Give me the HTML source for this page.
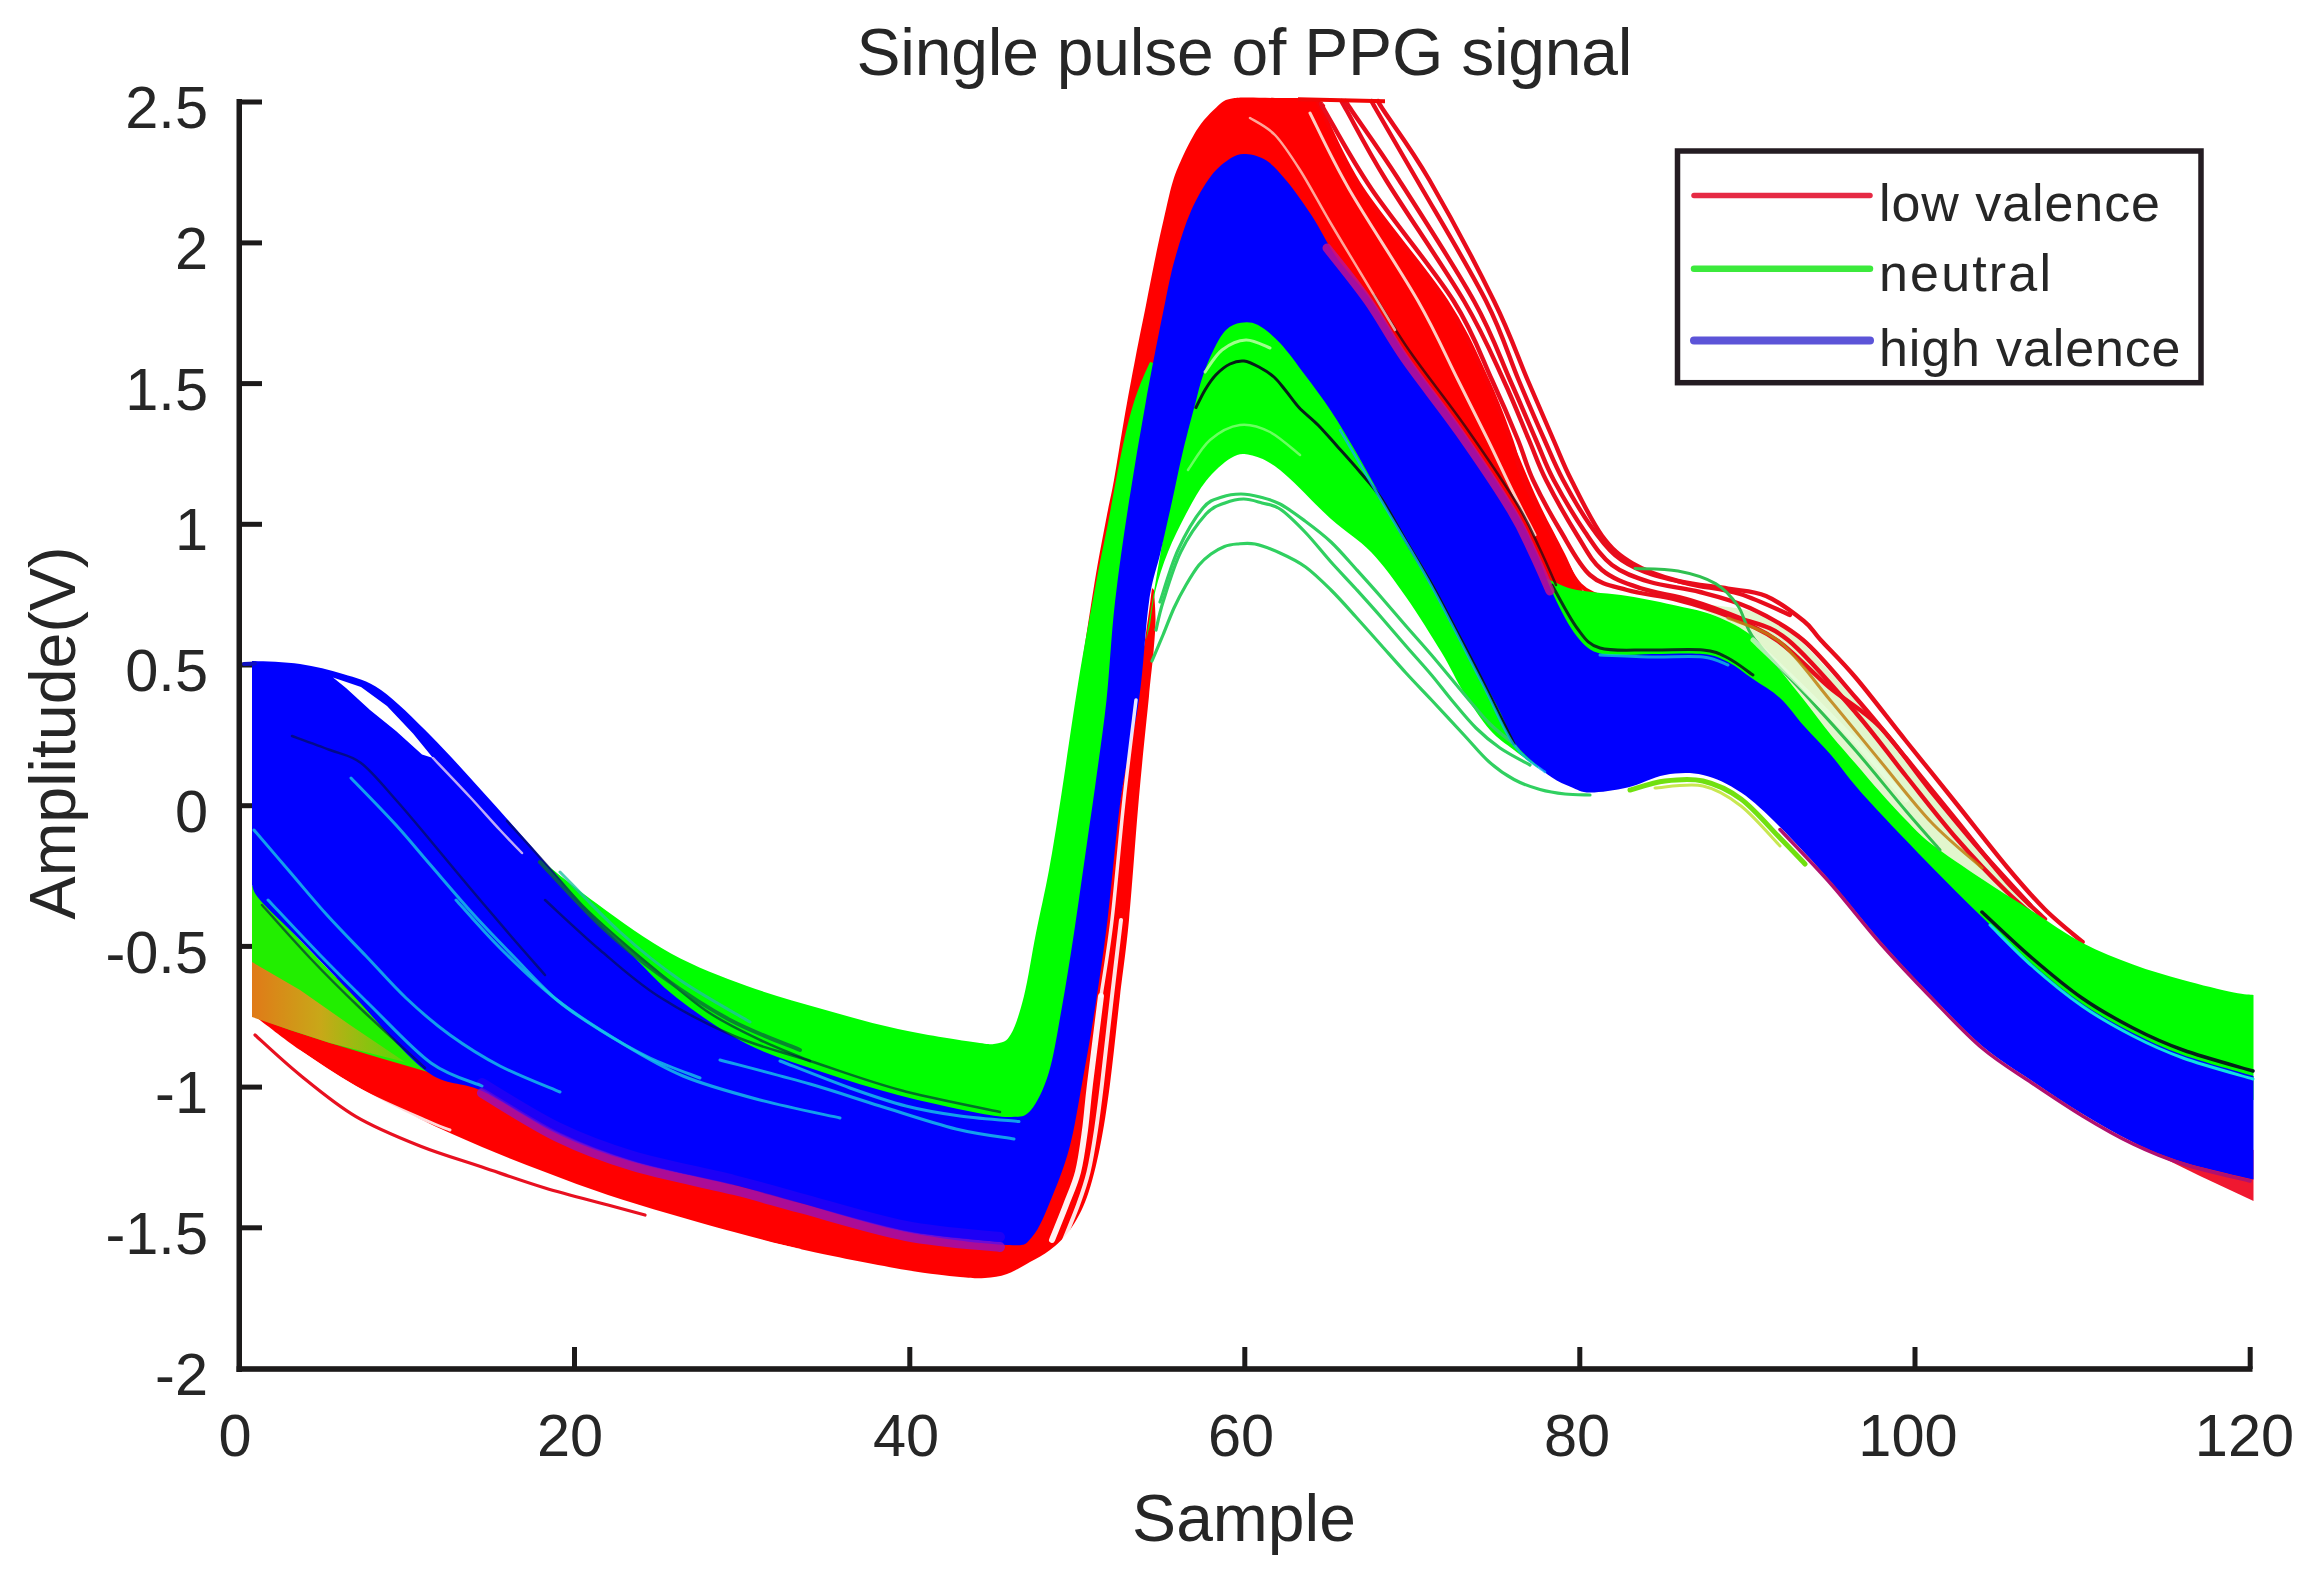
<!DOCTYPE html>
<html lang="en">
<head>
<meta charset="utf-8">
<title>Single pulse of PPG signal</title>
<style>
html,body{margin:0;padding:0;background:#ffffff;}
body{width:2310px;height:1588px;overflow:hidden;}
svg{display:block;}
text{font-family:"Liberation Sans",sans-serif;fill:#262626;}
.tick{font-size:59.5px;}
.lab{font-size:66px;}
.leg{font-size:52px;}
</style>
</head>
<body>
<svg width="2310" height="1588" viewBox="0 0 2310 1588">
<rect x="0" y="0" width="2310" height="1588" fill="#ffffff"/>
<!-- axes -->
<g fill="#1c1a1a">
<rect x="236.5" y="99" width="5.5" height="1273"/>
<rect x="236.5" y="1366.2" width="2016" height="5.6"/>
<!-- y ticks -->
<rect x="239" y="99.5" width="23" height="5"/>
<rect x="239" y="240.4" width="23" height="5"/>
<rect x="239" y="381.1" width="23" height="5"/>
<rect x="239" y="521.8" width="23" height="5"/>
<rect x="239" y="662.5" width="23" height="5"/>
<rect x="239" y="803.2" width="23" height="5"/>
<rect x="239" y="943.9" width="23" height="5"/>
<rect x="239" y="1084.6" width="23" height="5"/>
<rect x="239" y="1225.3" width="23" height="5"/>
<!-- x ticks -->
<rect x="572" y="1347" width="5" height="22"/>
<rect x="907.3" y="1347" width="5" height="22"/>
<rect x="1242.3" y="1347" width="5" height="22"/>
<rect x="1577.3" y="1347" width="5" height="22"/>
<rect x="1912.5" y="1347" width="5" height="22"/>
<rect x="2247.7" y="1347" width="5" height="22"/>
</g>
<path d="M1690.0,603.0 C1695.0,603.5 1709.5,604.5 1720.0,606.0 C1730.5,607.5 1741.3,607.7 1753.0,612.0 C1764.7,616.3 1777.2,622.0 1790.0,632.0 C1802.8,642.0 1815.0,655.7 1830.0,672.0 C1845.0,688.3 1863.3,710.0 1880.0,730.0 C1896.7,750.0 1913.3,771.7 1930.0,792.0 C1946.7,812.3 1963.3,833.2 1980.0,852.0 C1996.7,870.8 2016.7,892.0 2030.0,905.0 C2043.3,918.0 2055.0,925.8 2060.0,930.0 L2060.0,930.0 C2055.3,926.8 2045.0,919.5 2032.0,911.0 C2019.0,902.5 1998.8,890.2 1982.0,879.0 C1965.2,867.8 1944.2,853.8 1931.5,844.0 C1918.8,834.2 1914.4,828.5 1906.0,820.0 C1897.6,811.5 1889.3,802.3 1881.0,793.0 C1872.7,783.7 1864.3,773.7 1856.0,764.0 C1847.7,754.3 1839.7,745.7 1831.0,735.0 C1822.3,724.3 1812.5,710.8 1804.0,700.0 C1795.5,689.2 1788.4,680.5 1780.0,670.0 C1771.6,659.5 1763.4,645.7 1753.4,637.0 C1743.4,628.3 1730.6,623.3 1720.0,618.0 C1709.4,612.7 1695.0,607.2 1690.0,605.0 Z" fill="#dff5c8" opacity="0.9"/>
<path d="M252.0,1014.0 C260.0,1020.0 282.7,1038.0 300.0,1050.0 C317.3,1062.0 336.0,1074.5 356.0,1086.0 C376.0,1097.5 399.0,1108.8 420.0,1119.0 C441.0,1129.2 461.2,1138.2 482.0,1147.0 C502.8,1155.8 524.0,1164.0 545.0,1172.0 C566.0,1180.0 587.2,1188.0 608.0,1195.0 C628.8,1202.0 649.0,1207.8 670.0,1214.0 C691.0,1220.2 710.8,1225.8 734.0,1232.0 C757.2,1238.2 780.3,1244.7 809.0,1251.0 C837.7,1257.3 880.8,1265.7 906.0,1270.0 C931.2,1274.3 946.8,1275.7 960.0,1277.0 C973.2,1278.3 977.2,1278.5 985.0,1278.0 C992.8,1277.5 999.5,1276.7 1007.0,1274.0 C1014.5,1271.3 1022.8,1266.0 1030.0,1262.0 C1037.2,1258.0 1043.3,1255.3 1050.0,1250.0 C1056.7,1244.7 1063.8,1238.8 1070.0,1230.0 C1076.2,1221.2 1082.0,1210.8 1087.0,1197.0 C1092.0,1183.2 1096.2,1165.8 1100.0,1147.0 C1103.8,1128.2 1106.7,1109.2 1110.0,1084.0 C1113.3,1058.8 1116.8,1023.3 1120.0,996.0 C1123.2,968.7 1125.8,953.2 1129.0,920.0 C1132.2,886.8 1135.7,834.3 1139.0,797.0 C1142.3,759.7 1146.6,720.2 1149.0,696.0 C1151.4,671.8 1152.4,664.7 1153.5,652.0 C1154.6,639.3 1155.4,630.3 1155.5,620.0 C1155.6,609.7 1154.2,595.0 1154.0,590.0 L1152.0,588.0 C1150.8,596.7 1150.3,604.7 1145.0,640.0 C1139.7,675.3 1128.3,748.3 1120.0,800.0 C1111.7,851.7 1103.3,900.0 1095.0,950.0 C1086.7,1000.0 1080.8,1058.3 1070.0,1100.0 C1059.2,1141.7 1058.3,1183.3 1030.0,1200.0 C1001.7,1216.7 955.0,1208.3 900.0,1200.0 C845.0,1191.7 766.7,1175.0 700.0,1150.0 C633.3,1125.0 550.0,1075.0 500.0,1050.0 C450.0,1025.0 441.3,1016.7 400.0,1000.0 C358.7,983.3 276.7,958.3 252.0,950.0 Z" fill="#ff0000" />
<path d="M1079.0,684.0 C1081.6,667.2 1090.0,610.3 1094.5,583.0 C1099.0,555.7 1102.8,537.2 1106.0,520.0 C1109.2,502.8 1111.0,496.7 1114.0,480.0 C1117.0,463.3 1120.4,440.5 1124.0,420.0 C1127.6,399.5 1131.9,376.2 1135.6,357.0 C1139.3,337.8 1142.7,321.8 1146.0,305.0 C1149.3,288.2 1152.7,270.5 1155.7,256.0 C1158.7,241.5 1161.1,230.5 1164.0,218.0 C1166.9,205.5 1169.8,191.3 1173.0,181.0 C1176.2,170.7 1179.6,163.6 1183.0,156.0 C1186.4,148.4 1190.0,141.4 1193.5,135.4 C1197.0,129.4 1200.2,124.6 1204.0,120.0 C1207.8,115.4 1212.7,110.9 1216.0,107.7 C1219.3,104.5 1221.3,102.5 1224.0,101.0 C1226.7,99.5 1228.5,99.1 1232.0,98.5 C1235.5,97.9 1237.8,97.6 1245.0,97.5 C1252.2,97.4 1263.2,97.7 1275.0,98.0 C1286.8,98.3 1308.2,97.3 1316.0,99.5 C1323.8,101.7 1314.3,96.1 1322.0,111.0 C1329.7,125.9 1341.3,157.3 1362.0,189.0 C1382.7,220.7 1425.2,269.2 1446.0,301.0 C1466.8,332.8 1476.0,356.8 1487.0,380.0 C1498.0,403.2 1503.3,419.5 1512.0,440.0 C1520.7,460.5 1530.2,484.2 1539.0,503.0 C1547.8,521.8 1557.7,539.2 1564.5,553.0 C1571.3,566.8 1575.8,578.2 1580.0,586.0 C1584.2,593.8 1588.3,597.7 1590.0,600.0 L1590.0,640.0 C1581.7,636.7 1558.3,640.0 1540.0,620.0 C1521.7,600.0 1500.0,553.3 1480.0,520.0 C1460.0,486.7 1445.0,456.7 1420.0,420.0 C1395.0,383.3 1359.0,336.7 1330.0,300.0 C1301.0,263.3 1271.0,195.0 1246.0,200.0 C1221.0,205.0 1197.7,270.0 1180.0,330.0 C1162.3,390.0 1155.0,500.0 1140.0,560.0 C1125.0,620.0 1098.3,668.3 1090.0,690.0 Z" fill="#ff0000" />
<path d="M2030,1078 L2100,1124 L2145,1149 L2200,1176 L2253.5,1201 L2253.5,1150 Z" fill="#f01830" />
<path d="M1320.0,104.0 C1320.3,105.2 1315.0,96.8 1322.0,111.0 C1329.0,125.2 1341.3,157.3 1362.0,189.0 C1382.7,220.7 1425.2,269.2 1446.0,301.0 C1466.8,332.8 1476.2,356.8 1487.0,380.0 C1497.8,403.2 1504.9,423.3 1511.0,440.0 C1517.1,456.7 1516.7,464.2 1523.5,480.0 C1530.3,495.8 1542.6,517.5 1552.0,535.0 C1561.4,552.5 1569.5,574.2 1580.0,585.0 C1590.5,595.8 1603.0,596.2 1615.0,600.0 C1627.0,603.8 1645.8,606.7 1652.0,608.0" fill="none" stroke="#fa0206" stroke-width="4.4" stroke-linecap="round" />
<path d="M1323.0,106.0 C1323.3,106.8 1316.9,97.2 1325.0,111.0 C1333.1,124.8 1350.1,157.3 1371.5,189.0 C1392.9,220.7 1433.5,269.2 1453.6,301.0 C1473.7,332.8 1481.3,356.8 1492.0,380.0 C1502.7,403.2 1511.2,423.3 1518.0,440.0 C1524.8,456.7 1526.0,465.0 1533.0,480.0 C1540.0,495.0 1550.5,514.2 1560.0,530.0 C1569.5,545.8 1578.8,565.0 1590.0,575.0 C1601.2,585.0 1612.3,585.8 1627.0,590.0 C1641.7,594.2 1661.2,595.7 1678.0,600.0 C1694.8,604.3 1711.3,609.2 1728.0,616.0 C1744.7,622.8 1761.2,629.2 1778.0,641.0 C1794.8,652.8 1812.0,672.7 1829.0,687.0 C1846.0,701.3 1863.2,709.8 1880.0,727.0 C1896.8,744.2 1913.3,769.5 1930.0,790.0 C1946.7,810.5 1963.3,830.8 1980.0,850.0 C1996.7,869.2 2021.7,895.8 2030.0,905.0" fill="none" stroke="#e80c1c" stroke-width="4.4" stroke-linecap="round" />
<path d="M1341.5,101.0 C1342.4,102.7 1339.6,97.8 1347.0,111.0 C1354.4,124.2 1366.5,148.3 1386.0,180.0 C1405.5,211.7 1444.4,267.7 1464.0,301.0 C1483.6,334.3 1492.7,356.8 1503.5,380.0 C1514.3,403.2 1521.9,423.3 1529.0,440.0 C1536.1,456.7 1538.0,464.2 1546.0,480.0 C1554.0,495.8 1567.7,520.0 1577.0,535.0 C1586.3,550.0 1591.5,561.2 1602.0,570.0 C1612.5,578.8 1625.3,583.0 1640.0,588.0 C1654.7,593.0 1673.3,595.0 1690.0,600.0 C1706.7,605.0 1723.7,611.3 1740.0,618.0 C1756.3,624.7 1768.7,624.2 1788.0,640.0 C1807.3,655.8 1836.3,690.3 1856.0,713.0 C1875.7,735.7 1889.2,755.0 1906.0,776.0 C1922.8,797.0 1940.2,819.7 1957.0,839.0 C1973.8,858.3 1992.3,877.7 2007.0,892.0 C2021.7,906.3 2038.7,919.5 2045.0,925.0" fill="none" stroke="#e80c1c" stroke-width="4.4" stroke-linecap="round" />
<path d="M1345.5,101.0 C1346.6,102.7 1343.1,97.8 1352.0,111.0 C1360.9,124.2 1378.7,148.3 1399.0,180.0 C1419.3,211.7 1455.5,267.7 1474.0,301.0 C1492.5,334.3 1499.7,356.8 1510.0,380.0 C1520.3,403.2 1528.7,423.3 1536.0,440.0 C1543.3,456.7 1545.5,464.7 1553.7,480.0 C1561.9,495.3 1575.3,517.8 1585.0,532.0 C1594.7,546.2 1601.2,556.7 1612.0,565.0 C1622.8,573.3 1635.3,577.5 1650.0,582.0 C1664.7,586.5 1683.3,587.7 1700.0,592.0 C1716.7,596.3 1732.8,600.0 1750.0,608.0 C1767.2,616.0 1785.3,625.0 1803.0,640.0 C1820.7,655.0 1838.8,678.3 1856.0,698.0 C1873.2,717.7 1889.2,737.5 1906.0,758.0 C1922.8,778.5 1940.2,800.3 1957.0,821.0 C1973.8,841.7 1992.3,865.7 2007.0,882.0 C2021.7,898.3 2038.7,912.8 2045.0,919.0" fill="none" stroke="#e80c1c" stroke-width="4.4" stroke-linecap="round" />
<path d="M1371.5,101.0 C1372.4,102.7 1369.4,97.8 1377.0,111.0 C1384.6,124.2 1398.8,148.3 1417.0,180.0 C1435.2,211.7 1469.1,267.7 1486.0,301.0 C1502.9,334.3 1508.8,356.8 1518.6,380.0 C1528.3,403.2 1537.1,423.3 1544.5,440.0 C1551.9,456.7 1555.4,465.8 1563.0,480.0 C1570.6,494.2 1581.3,512.5 1590.0,525.0 C1598.7,537.5 1605.8,547.2 1615.0,555.0 C1624.2,562.8 1632.5,567.2 1645.0,572.0 C1657.5,576.8 1674.2,580.3 1690.0,584.0 C1705.8,587.7 1723.3,588.8 1740.0,594.0 C1756.7,599.2 1781.7,611.5 1790.0,615.0" fill="none" stroke="#e80c1c" stroke-width="4.4" stroke-linecap="round" />
<path d="M1378.0,101.0 C1379.0,102.7 1375.4,97.8 1384.0,111.0 C1392.6,124.2 1411.1,148.3 1429.4,180.0 C1447.7,211.7 1477.6,267.7 1494.0,301.0 C1510.4,334.3 1517.7,356.8 1527.6,380.0 C1537.5,403.2 1546.2,423.3 1553.5,440.0 C1560.8,456.7 1563.2,464.1 1571.3,480.0 C1579.4,495.9 1591.8,521.8 1602.0,535.7 C1612.2,549.6 1619.8,555.9 1632.5,563.4 C1645.2,570.9 1662.1,576.8 1678.0,581.0 C1693.9,585.2 1713.3,586.1 1728.0,588.6 C1742.7,591.1 1753.4,590.6 1766.0,596.0 C1778.6,601.4 1794.7,613.7 1803.8,621.0 C1812.9,628.3 1812.0,630.5 1820.7,640.0 C1829.4,649.5 1841.8,661.2 1856.0,678.0 C1870.2,694.8 1889.2,720.0 1906.0,741.0 C1922.8,762.0 1939.9,783.0 1956.7,804.0 C1973.5,825.0 1992.3,849.4 2007.0,867.0 C2021.7,884.6 2032.4,897.0 2045.0,909.5 C2057.6,922.0 2076.3,936.6 2082.6,942.0" fill="none" stroke="#e80c1c" stroke-width="4.4" stroke-linecap="round" />
<path d="M1310.0,113.0 C1316.5,125.7 1331.0,157.7 1349.0,189.0 C1367.0,220.3 1399.8,269.2 1418.0,301.0 C1436.2,332.8 1446.3,356.8 1458.0,380.0 C1469.7,403.2 1479.0,421.7 1488.0,440.0 C1497.0,458.3 1504.2,474.2 1512.0,490.0 C1519.8,505.8 1531.2,527.5 1535.0,535.0" fill="none" stroke="#ffe4d8" stroke-width="3" stroke-linecap="round" opacity="0.9"/>
<path d="M1298,99.3 L1385,101.3" stroke="#f20606" stroke-width="4" fill="none"/>
<path d="M255.0,1035.0 C262.5,1041.7 283.2,1061.4 300.0,1075.0 C316.8,1088.6 336.0,1104.8 356.0,1116.6 C376.0,1128.4 399.0,1137.6 420.0,1146.0 C441.0,1154.4 461.2,1160.0 482.0,1167.0 C502.8,1174.0 524.0,1181.7 545.0,1188.0 C566.0,1194.3 591.3,1200.5 608.0,1205.0 C624.7,1209.5 638.8,1213.3 645.0,1215.0" fill="none" stroke="#e81020" stroke-width="3.2" stroke-linecap="round" />
<path d="M490.0,815.0 C495.0,819.7 502.3,828.3 520.0,843.0 C537.7,857.7 570.8,884.6 596.0,903.0 C621.2,921.4 645.8,939.7 671.0,953.5 C696.2,967.3 721.8,976.8 747.0,986.0 C772.2,995.2 796.8,1001.8 822.0,1009.0 C847.2,1016.2 872.8,1023.5 898.0,1029.0 C923.2,1034.5 956.5,1039.6 973.0,1042.0 C989.5,1044.4 990.7,1044.8 997.0,1043.5 C1003.3,1042.2 1006.5,1041.9 1011.0,1034.0 C1015.5,1026.1 1019.8,1012.8 1024.0,996.0 C1028.2,979.2 1031.8,954.0 1036.0,933.0 C1040.2,912.0 1044.8,892.7 1049.0,870.0 C1053.2,847.3 1056.2,828.0 1061.0,797.0 C1065.8,766.0 1072.2,719.7 1078.0,684.0 C1083.8,648.3 1090.9,610.3 1096.0,583.0 C1101.1,555.7 1105.3,537.2 1108.6,520.0 C1111.9,502.8 1113.6,492.5 1116.0,480.0 C1118.4,467.5 1120.5,456.3 1123.0,445.0 C1125.5,433.7 1128.2,422.0 1131.0,412.0 C1133.8,402.0 1136.8,393.3 1140.0,385.0 C1143.2,376.7 1148.3,365.8 1150.0,362.0 L1160.0,365.0 C1159.7,374.2 1160.5,397.5 1158.0,420.0 C1155.5,442.5 1148.8,470.0 1145.0,500.0 C1141.2,530.0 1138.3,568.3 1135.0,600.0 C1131.7,631.7 1129.2,656.7 1125.0,690.0 C1120.8,723.3 1116.7,756.7 1110.0,800.0 C1103.3,843.3 1095.0,900.0 1085.0,950.0 C1075.0,1000.0 1062.5,1070.0 1050.0,1100.0 C1037.5,1130.0 1035.0,1126.7 1010.0,1130.0 C985.0,1133.3 943.3,1128.3 900.0,1120.0 C856.7,1111.7 800.0,1100.0 750.0,1080.0 C700.0,1060.0 641.7,1030.0 600.0,1000.0 C558.3,970.0 516.7,916.7 500.0,900.0 Z" fill="#00ff00" />
<path d="M1146.0,640.0 C1150.0,616.7 1161.0,548.3 1170.0,500.0 C1179.0,451.7 1187.3,383.3 1200.0,350.0 C1212.7,316.7 1229.3,301.7 1246.0,300.0 C1262.7,298.3 1277.7,311.7 1300.0,340.0 C1322.3,368.3 1355.0,428.3 1380.0,470.0 C1405.0,511.7 1430.0,551.7 1450.0,590.0 C1470.0,628.3 1485.3,671.7 1500.0,700.0 C1514.7,728.3 1531.7,750.0 1538.0,760.0 L1538.0,768.0 C1534.0,765.0 1522.0,756.3 1514.0,750.0 C1506.0,743.7 1498.3,739.5 1490.0,730.0 C1481.7,720.5 1472.1,705.9 1464.0,693.0 C1455.9,680.1 1451.3,668.6 1441.6,652.6 C1431.9,636.6 1417.8,613.8 1406.0,597.0 C1394.2,580.2 1383.5,565.0 1371.0,552.0 C1358.5,539.0 1346.2,532.7 1331.0,519.0 C1315.8,505.3 1293.5,480.7 1280.0,470.0 C1266.5,459.3 1258.2,457.0 1250.0,455.0 C1241.8,453.0 1238.3,453.7 1231.0,458.0 C1223.7,462.3 1213.5,471.7 1206.0,481.0 C1198.5,490.3 1192.3,502.2 1186.0,514.0 C1179.7,525.8 1173.1,539.3 1168.0,552.0 C1162.9,564.7 1158.6,577.8 1155.6,590.0 C1152.6,602.2 1150.9,619.2 1150.0,625.0 Z" fill="#00ff00" />
<path d="M252,885 L262,900 L300,940 L350,992 L428,1072 L380,1058 L330,1043 L290,1030 L252,1016 Z" fill="#22ee00" />
<defs><linearGradient id="og" x1="0" y1="0" x2="1" y2="0"><stop offset="0" stop-color="#e07a18"/><stop offset="0.45" stop-color="#c8a818"/><stop offset="1" stop-color="#58d808"/></linearGradient></defs>
<path d="M252,962 L300,990 L350,1025 L405,1062 L330,1043 L290,1030 L252,1017 Z" fill="url(#og)" />
<path d="M1540.0,575.0 C1542.0,576.0 1545.8,578.5 1552.0,581.0 C1558.2,583.5 1564.4,587.5 1577.0,590.0 C1589.6,592.5 1610.7,593.3 1627.5,596.0 C1644.3,598.7 1663.3,602.7 1678.0,606.0 C1692.7,609.3 1703.0,610.8 1715.6,616.0 C1728.2,621.2 1742.7,628.0 1753.4,637.0 C1764.1,646.0 1771.6,659.5 1780.0,670.0 C1788.4,680.5 1795.5,689.2 1804.0,700.0 C1812.5,710.8 1822.3,724.3 1831.0,735.0 C1839.7,745.7 1847.7,754.3 1856.0,764.0 C1864.3,773.7 1872.7,783.7 1881.0,793.0 C1889.3,802.3 1897.6,811.5 1906.0,820.0 C1914.4,828.5 1918.8,834.2 1931.5,844.0 C1944.2,853.8 1965.2,867.8 1982.0,879.0 C1998.8,890.2 2015.2,900.3 2032.0,911.0 C2048.8,921.7 2065.8,934.1 2082.6,943.0 C2099.4,951.9 2116.3,958.3 2133.0,964.5 C2149.7,970.7 2166.2,975.3 2183.0,980.0 C2199.8,984.7 2222.1,990.1 2233.8,992.6 C2245.6,995.1 2250.2,994.6 2253.5,995.0 L2253.5,1100.0 C2241.8,1098.3 2211.6,1100.0 2183.0,1090.0 C2154.4,1080.0 2115.5,1061.7 2082.0,1040.0 C2048.5,1018.3 2015.5,990.0 1982.0,960.0 C1948.5,930.0 1914.7,893.3 1881.0,860.0 C1847.3,826.7 1810.2,786.7 1780.0,760.0 C1749.8,733.3 1730.0,710.0 1700.0,700.0 C1670.0,690.0 1626.7,700.0 1600.0,700.0 C1573.3,700.0 1550.0,700.0 1540.0,700.0 Z" fill="#00ff00" />
<path d="M1630.0,790.0 C1635.8,788.5 1652.8,782.5 1665.0,781.0 C1677.2,779.5 1690.3,778.0 1703.0,781.0 C1715.7,784.0 1728.2,789.5 1741.0,799.0 C1753.8,808.5 1769.3,827.2 1780.0,838.0 C1790.7,848.8 1800.8,859.7 1805.0,864.0" fill="none" stroke="#70e010" stroke-width="5" stroke-linecap="round" />
<path d="M1655.0,788.0 C1663.0,787.7 1688.7,783.0 1703.0,786.0 C1717.3,789.0 1728.2,796.0 1741.0,806.0 C1753.8,816.0 1773.5,839.3 1780.0,846.0" fill="none" stroke="#c8e850" stroke-width="3" stroke-linecap="round" />
<path d="M1152.0,661.0 C1153.8,656.7 1159.3,643.8 1163.0,635.0 C1166.7,626.2 1170.2,616.3 1174.0,608.0 C1177.8,599.7 1181.8,592.2 1186.0,585.0 C1190.2,577.8 1194.8,570.2 1199.0,565.0 C1203.2,559.8 1206.8,557.1 1211.0,554.0 C1215.2,550.9 1220.2,548.1 1224.5,546.4 C1228.8,544.7 1231.9,544.4 1237.0,544.0 C1242.1,543.6 1247.8,542.5 1255.0,544.0 C1262.2,545.5 1271.6,549.2 1280.0,553.0 C1288.4,556.8 1297.1,560.8 1305.6,567.0 C1314.1,573.2 1322.6,581.7 1331.0,590.0 C1339.4,598.3 1347.7,607.8 1356.0,617.0 C1364.3,626.2 1372.7,635.7 1381.0,645.0 C1389.3,654.3 1397.6,663.8 1406.0,673.0 C1414.4,682.2 1421.8,689.7 1431.5,700.0 C1441.2,710.3 1454.4,724.7 1464.0,735.0 C1473.6,745.3 1480.7,754.4 1489.0,761.8 C1497.3,769.2 1505.5,774.9 1514.0,779.5 C1522.5,784.1 1531.5,787.1 1540.0,789.5 C1548.5,791.9 1556.7,793.1 1565.0,794.0 C1573.3,794.9 1585.8,794.8 1590.0,795.0" fill="none" stroke="#30d060" stroke-width="3.2" stroke-linecap="round" />
<path d="M1156.0,630.0 C1157.2,625.3 1158.9,615.0 1163.0,602.0 C1167.1,589.0 1173.5,566.7 1180.7,552.0 C1187.9,537.3 1198.6,522.2 1206.0,514.0 C1213.4,505.8 1218.7,505.5 1225.0,503.0 C1231.3,500.5 1237.5,499.0 1243.7,499.0 C1249.9,499.0 1256.0,501.3 1262.0,503.0 C1268.0,504.7 1272.8,504.2 1280.0,509.0 C1287.2,513.8 1296.5,523.2 1305.0,532.0 C1313.5,540.8 1322.5,552.5 1331.0,562.0 C1339.5,571.5 1347.7,579.8 1356.0,589.0 C1364.3,598.2 1372.7,607.5 1381.0,617.0 C1389.3,626.5 1397.6,636.3 1406.0,646.0 C1414.4,655.7 1423.9,666.0 1431.5,675.0 C1439.1,684.0 1444.2,691.2 1451.6,700.0 C1459.0,708.8 1467.9,720.0 1476.0,728.0 C1484.1,736.0 1491.0,741.8 1500.0,748.0 C1509.0,754.2 1525.0,762.2 1530.0,765.0" fill="none" stroke="#30d060" stroke-width="3.2" stroke-linecap="round" />
<path d="M1160.0,602.0 C1163.0,593.3 1170.8,565.7 1178.0,550.0 C1185.2,534.3 1195.7,516.8 1203.0,508.0 C1210.3,499.2 1215.7,499.3 1222.0,497.0 C1228.3,494.7 1234.7,494.0 1241.0,494.0 C1247.3,494.0 1253.5,495.3 1260.0,497.0 C1266.5,498.7 1272.5,500.0 1280.0,504.0 C1287.5,508.0 1296.5,514.7 1305.0,521.0 C1313.5,527.3 1322.5,534.0 1331.0,542.0 C1339.5,550.0 1347.7,559.8 1356.0,569.0 C1364.3,578.2 1372.7,587.5 1381.0,597.0 C1389.3,606.5 1397.6,616.3 1406.0,626.0 C1414.4,635.7 1421.0,642.7 1431.5,655.0 C1442.0,667.3 1459.2,688.5 1469.0,700.0 C1478.8,711.5 1482.5,716.7 1490.0,724.0 C1497.5,731.3 1506.5,738.3 1514.0,744.0 C1521.5,749.7 1531.5,755.7 1535.0,758.0" fill="none" stroke="#30d060" stroke-width="3.2" stroke-linecap="round" />
<path d="M252.0,661.0 C260.0,661.5 284.8,661.8 300.0,664.0 C315.2,666.2 329.5,669.7 343.0,674.0 C356.5,678.3 366.3,679.7 381.0,690.0 C395.7,700.3 414.2,719.2 431.0,736.0 C447.8,752.8 465.2,772.5 482.0,791.0 C498.8,809.5 515.3,828.0 532.0,847.0 C548.7,866.0 565.2,886.8 582.0,905.0 C598.8,923.2 617.2,940.5 633.0,956.0 C648.8,971.5 658.0,983.3 677.0,998.0 C696.0,1012.7 722.8,1031.7 747.0,1044.0 C771.2,1056.3 796.8,1063.5 822.0,1072.0 C847.2,1080.5 872.8,1088.3 898.0,1095.0 C923.2,1101.7 954.2,1108.3 973.0,1112.0 C991.8,1115.7 1001.3,1117.3 1011.0,1117.0 C1020.7,1116.7 1024.7,1117.5 1031.0,1110.0 C1037.3,1102.5 1043.9,1088.8 1049.0,1072.0 C1054.1,1055.2 1057.4,1032.2 1061.6,1009.0 C1065.8,985.8 1069.8,960.3 1074.0,933.0 C1078.2,905.7 1083.0,870.5 1086.7,845.0 C1090.4,819.5 1092.7,804.2 1096.0,780.0 C1099.3,755.8 1103.3,729.7 1106.5,700.0 C1109.7,670.3 1111.2,635.1 1115.0,602.0 C1118.8,568.9 1123.8,535.0 1129.0,501.5 C1134.2,467.9 1139.9,434.3 1146.0,400.7 C1152.1,367.1 1160.6,324.3 1165.6,300.0 C1170.6,275.7 1171.8,269.8 1176.0,255.0 C1180.2,240.2 1185.2,224.2 1191.0,211.0 C1196.8,197.8 1204.3,184.8 1211.0,176.0 C1217.7,167.2 1225.2,161.7 1231.0,158.0 C1236.8,154.3 1240.1,153.6 1246.0,154.0 C1251.9,154.4 1259.7,156.1 1266.5,160.6 C1273.3,165.1 1279.1,171.8 1286.7,181.0 C1294.3,190.2 1303.6,203.2 1312.0,216.0 C1320.4,228.8 1327.2,244.0 1337.0,258.0 C1346.8,272.0 1359.2,283.3 1371.0,300.0 C1382.8,316.7 1392.8,336.2 1408.0,358.0 C1423.2,379.8 1444.3,405.8 1462.0,431.0 C1479.7,456.2 1501.7,488.8 1514.0,509.0 C1526.3,529.2 1529.3,537.5 1536.0,552.0 C1542.7,566.5 1547.2,581.9 1554.0,596.0 C1560.8,610.1 1569.0,626.8 1577.0,636.5 C1585.0,646.2 1589.4,651.1 1602.0,654.0 C1614.6,656.9 1635.8,654.0 1652.6,654.0 C1669.4,654.0 1690.4,652.7 1703.0,654.0 C1715.6,655.3 1719.7,657.8 1728.0,662.0 C1736.3,666.2 1744.3,673.0 1753.0,679.0 C1761.7,685.0 1771.5,690.2 1780.0,698.0 C1788.5,705.8 1795.5,716.5 1804.0,726.0 C1812.5,735.5 1822.7,745.3 1831.0,755.0 C1839.3,764.7 1845.7,774.2 1854.0,784.0 C1862.3,793.8 1868.1,800.2 1881.0,814.0 C1893.9,827.8 1914.7,849.5 1931.5,866.7 C1948.3,883.9 1965.2,900.8 1982.0,917.0 C1998.8,933.2 2015.2,949.5 2032.0,964.0 C2048.8,978.5 2065.8,992.5 2082.6,1004.0 C2099.4,1015.5 2116.3,1024.5 2133.0,1033.0 C2149.7,1041.5 2162.9,1047.8 2183.0,1055.0 C2203.1,1062.2 2241.8,1072.5 2253.5,1076.0 L2253.5,1179.6 C2241.8,1176.7 2203.1,1168.3 2183.0,1162.0 C2162.9,1155.7 2149.7,1150.0 2133.0,1142.0 C2116.3,1134.0 2099.4,1124.2 2082.6,1114.0 C2065.8,1103.8 2048.8,1092.3 2032.0,1081.0 C2015.2,1069.7 1998.8,1060.2 1982.0,1046.0 C1965.2,1031.8 1948.3,1013.3 1931.5,996.0 C1914.7,978.7 1897.8,961.0 1881.0,942.0 C1864.2,923.0 1847.8,901.2 1831.0,882.0 C1814.2,862.8 1795.0,841.9 1780.0,827.0 C1765.0,812.1 1753.8,801.3 1741.0,792.6 C1728.2,783.9 1715.7,777.9 1703.0,775.0 C1690.3,772.1 1677.6,772.9 1665.0,775.0 C1652.4,777.1 1640.0,784.7 1627.5,787.6 C1615.0,790.5 1599.4,792.7 1590.0,792.6 C1580.6,792.5 1577.3,789.5 1571.0,787.0 C1564.7,784.5 1558.3,781.7 1552.0,777.5 C1545.7,773.3 1539.3,767.9 1533.0,762.0 C1526.7,756.1 1519.5,750.3 1514.0,742.0 C1508.5,733.7 1505.3,722.7 1500.0,712.0 C1494.7,701.3 1489.2,691.7 1482.0,678.0 C1474.8,664.3 1465.4,646.0 1457.0,630.0 C1448.6,614.0 1440.0,597.2 1431.5,582.0 C1423.0,566.8 1414.4,553.2 1406.0,539.0 C1397.6,524.8 1389.3,511.0 1381.0,496.5 C1372.7,482.0 1364.3,466.2 1356.0,452.0 C1347.7,437.8 1339.5,423.8 1331.0,411.0 C1322.5,398.2 1313.5,386.3 1305.0,375.0 C1296.5,363.7 1287.8,351.3 1280.0,343.0 C1272.2,334.7 1264.5,328.4 1258.0,325.0 C1251.5,321.6 1246.3,321.9 1241.0,322.7 C1235.7,323.5 1230.6,325.4 1226.0,330.0 C1221.4,334.6 1217.3,342.4 1213.5,350.0 C1209.7,357.6 1205.9,367.2 1203.0,375.6 C1200.1,384.1 1199.3,388.1 1196.0,400.7 C1192.7,413.3 1187.0,434.2 1183.0,451.0 C1179.0,467.8 1175.7,484.7 1172.0,501.5 C1168.3,518.3 1164.4,535.2 1160.6,552.0 C1156.8,568.8 1152.6,577.3 1149.0,602.0 C1145.4,626.7 1143.7,667.5 1139.0,700.0 C1134.3,732.5 1126.2,760.3 1121.0,797.0 C1115.8,833.7 1111.8,884.8 1107.5,920.0 C1103.2,955.2 1099.2,980.7 1095.0,1008.0 C1090.8,1035.3 1086.2,1060.6 1082.0,1083.7 C1077.8,1106.8 1074.7,1127.8 1069.7,1146.7 C1064.7,1165.6 1058.3,1182.0 1052.0,1197.0 C1045.7,1212.0 1039.5,1229.0 1032.0,1237.0 C1024.5,1245.0 1028.0,1245.8 1007.0,1245.0 C986.0,1244.2 940.5,1239.0 906.0,1232.0 C871.5,1225.0 828.7,1210.8 800.0,1203.0 C771.3,1195.2 761.8,1191.8 734.0,1185.0 C706.2,1178.2 662.4,1170.5 633.0,1162.0 C603.6,1153.5 582.7,1145.8 557.5,1134.0 C532.3,1122.2 503.9,1101.5 482.0,1091.0 C460.1,1080.5 448.0,1087.5 426.0,1071.0 C404.0,1054.5 371.0,1013.8 350.0,992.0 C329.0,970.2 315.0,955.3 300.0,940.0 C285.0,924.7 268.0,909.2 260.0,900.0 C252.0,890.8 253.3,887.5 252.0,885.0 Z" fill="#0000ff" />
<path d="M1196.0,407.5 C1197.5,404.6 1201.7,395.5 1205.0,390.0 C1208.3,384.5 1211.8,379.0 1216.0,374.7 C1220.2,370.4 1225.3,366.3 1230.0,364.0 C1234.7,361.7 1239.2,360.5 1244.0,361.0 C1248.8,361.5 1254.0,364.3 1259.0,367.0 C1264.0,369.7 1269.5,373.0 1274.0,377.0 C1278.5,381.0 1281.8,385.9 1286.0,391.0 C1290.2,396.1 1293.7,401.8 1299.0,407.5 C1304.3,413.2 1311.7,418.6 1318.0,425.0 C1324.3,431.4 1330.0,438.2 1337.0,446.0 C1344.0,453.8 1352.7,463.3 1360.0,472.0 C1367.3,480.7 1373.3,486.5 1381.0,498.0 C1388.7,509.5 1397.6,526.7 1406.0,541.0 C1414.4,555.3 1423.0,568.8 1431.5,584.0 C1440.0,599.2 1448.6,616.0 1457.0,632.0 C1465.4,648.0 1472.5,661.3 1482.0,680.0 C1491.5,698.7 1508.7,733.3 1514.0,744.0" fill="none" stroke="#062018" stroke-width="3" stroke-linecap="round" />
<path d="M1552.0,585.0 C1556.2,592.2 1569.0,617.5 1577.0,628.0 C1585.0,638.5 1587.8,644.3 1600.0,648.0 C1612.2,651.7 1632.8,649.7 1650.0,650.0 C1667.2,650.3 1690.0,648.7 1703.0,650.0 C1716.0,651.3 1719.7,653.8 1728.0,658.0 C1736.3,662.2 1748.8,672.2 1753.0,675.0" fill="none" stroke="#083818" stroke-width="3" stroke-linecap="round" />
<path d="M1982.0,912.0 C1990.3,919.7 2015.3,943.7 2032.0,958.0 C2048.7,972.3 2065.2,986.3 2082.0,998.0 C2098.8,1009.7 2116.2,1019.3 2133.0,1028.0 C2149.8,1036.7 2163.0,1042.8 2183.0,1050.0 C2203.0,1057.2 2241.3,1067.5 2253.0,1071.0" fill="none" stroke="#052018" stroke-width="3.5" stroke-linecap="round" />
<path d="M1990.0,925.0 C1997.0,931.8 2016.7,952.5 2032.0,966.0 C2047.3,979.5 2065.2,994.3 2082.0,1006.0 C2098.8,1017.7 2116.2,1027.3 2133.0,1036.0 C2149.8,1044.7 2163.0,1050.8 2183.0,1058.0 C2203.0,1065.2 2241.3,1075.5 2253.0,1079.0" fill="none" stroke="#10e0e0" stroke-width="3" stroke-linecap="round" />
<path d="M482.0,1093.0 C494.6,1100.3 532.3,1124.8 557.5,1137.0 C582.7,1149.2 603.6,1157.2 633.0,1166.0 C662.4,1174.8 706.2,1183.0 734.0,1190.0 C761.8,1197.0 771.3,1200.3 800.0,1208.0 C828.7,1215.7 872.7,1229.5 906.0,1236.0 C939.3,1242.5 984.3,1245.2 1000.0,1247.0" fill="none" stroke="#9010c8" stroke-width="10" stroke-linecap="round" opacity="0.75"/>
<path d="M482.0,1083.0 C494.6,1090.3 532.3,1114.8 557.5,1127.0 C582.7,1139.2 603.6,1147.2 633.0,1156.0 C662.4,1164.8 706.2,1173.0 734.0,1180.0 C761.8,1187.0 771.3,1190.3 800.0,1198.0 C828.7,1205.7 872.7,1219.5 906.0,1226.0 C939.3,1232.5 984.3,1235.2 1000.0,1237.0" fill="none" stroke="#3000f0" stroke-width="10" stroke-linecap="round" opacity="0.6"/>
<path d="M1327.0,248.0 C1333.8,256.8 1355.0,282.5 1368.0,301.0 C1381.0,319.5 1389.8,337.2 1405.0,359.0 C1420.2,380.8 1441.3,406.8 1459.0,432.0 C1476.7,457.2 1498.7,489.8 1511.0,510.0 C1523.3,530.2 1526.5,539.5 1533.0,553.0 C1539.5,566.5 1547.2,584.7 1550.0,591.0" fill="none" stroke="#c01090" stroke-width="9" stroke-linecap="round" opacity="0.85"/>
<path d="M1374.0,295.0 C1380.2,304.7 1395.8,331.2 1411.0,353.0 C1426.2,374.8 1447.3,400.8 1465.0,426.0 C1482.7,451.2 1504.7,483.8 1517.0,504.0 C1529.3,524.2 1532.5,533.5 1539.0,547.0 C1545.5,560.5 1553.2,578.7 1556.0,585.0" fill="none" stroke="#300810" stroke-width="2.5" stroke-linecap="round" opacity="0.8"/>
<path d="M1780.0,829.5 C1788.5,838.6 1814.2,864.9 1831.0,884.0 C1847.8,903.1 1864.2,925.0 1881.0,944.0 C1897.8,963.0 1914.7,980.7 1931.5,998.0 C1948.3,1015.3 1965.2,1033.8 1982.0,1048.0 C1998.8,1062.2 2015.2,1071.7 2032.0,1083.0 C2048.8,1094.3 2065.8,1105.8 2082.6,1116.0 C2099.4,1126.2 2116.3,1136.0 2133.0,1144.0 C2149.7,1152.0 2163.5,1157.8 2183.0,1164.0 C2202.5,1170.2 2238.8,1178.2 2250.0,1181.0" fill="none" stroke="#b01070" stroke-width="3.5" stroke-linecap="round" />
<path d="M1052.0,1240.0 C1054.3,1234.2 1061.7,1216.3 1066.0,1205.0 C1070.3,1193.7 1074.8,1184.5 1078.0,1172.0 C1081.2,1159.5 1083.0,1144.7 1085.0,1130.0 C1087.0,1115.3 1087.3,1106.3 1090.0,1084.0 C1092.7,1061.7 1099.2,1010.7 1101.0,996.0" fill="none" stroke="#ffffff" stroke-width="6" stroke-linecap="round" opacity="0.95"/>
<path d="M1101.0,996.0 C1102.8,983.3 1108.2,952.7 1112.0,920.0 C1115.8,887.3 1120.0,836.7 1124.0,800.0 C1128.0,763.3 1134.0,716.7 1136.0,700.0" fill="none" stroke="#ffffff" stroke-width="3.5" stroke-linecap="round" opacity="0.9"/>
<path d="M1064.0,1240.0 C1066.3,1234.2 1073.9,1216.3 1078.0,1205.0 C1082.1,1193.7 1085.5,1184.5 1088.5,1172.0 C1091.5,1159.5 1093.8,1144.7 1096.0,1130.0 C1098.2,1115.3 1099.3,1106.3 1102.0,1084.0 C1104.7,1061.7 1108.8,1023.3 1112.0,996.0 C1115.2,968.7 1119.5,932.7 1121.0,920.0" fill="none" stroke="#ffffff" stroke-width="4" stroke-linecap="round" opacity="0.9"/>
<path d="M300.0,1052.0 C310.0,1058.3 338.3,1078.3 360.0,1090.0 C381.7,1101.7 415.0,1115.3 430.0,1122.0 C445.0,1128.7 446.7,1128.7 450.0,1130.0" fill="none" stroke="#ffffff" stroke-width="3" stroke-linecap="round" opacity="0.85"/>
<path d="M700.0,1226.0 C710.0,1228.5 743.3,1237.0 760.0,1241.0 C776.7,1245.0 793.3,1248.5 800.0,1250.0" fill="none" stroke="#ffffff" stroke-width="2.5" stroke-linecap="round" opacity="0.8"/>
<path d="M1250.0,118.0 C1254.2,120.8 1266.7,126.3 1275.0,135.0 C1283.3,143.7 1290.8,155.5 1300.0,170.0 C1309.2,184.5 1320.0,205.0 1330.0,222.0 C1340.0,239.0 1349.2,254.0 1360.0,272.0 C1370.8,290.0 1389.2,320.3 1395.0,330.0" fill="none" stroke="#ffd0c0" stroke-width="2.5" stroke-linecap="round" opacity="0.8"/>
<path d="M351.0,778.0 C358.5,785.8 382.8,810.5 396.0,825.0 C409.2,839.5 417.5,850.0 430.5,865.0 C443.5,880.0 459.9,899.5 474.0,915.0 C488.1,930.5 501.2,943.8 515.0,958.0 C528.8,972.2 542.8,988.0 557.0,1000.0 C571.2,1012.0 584.5,1020.3 600.0,1030.0 C615.5,1039.7 633.3,1050.0 650.0,1058.0 C666.7,1066.0 691.7,1074.7 700.0,1078.0" fill="none" stroke="#18c8e8" stroke-width="3" stroke-linecap="round" opacity="0.8"/>
<path d="M254.0,830.0 C260.0,837.0 277.8,857.8 290.0,872.0 C302.2,886.2 314.3,901.0 327.0,915.0 C339.7,929.0 352.8,942.2 366.0,956.0 C379.2,969.8 392.0,984.8 406.0,998.0 C420.0,1011.2 434.3,1023.7 450.0,1035.0 C465.7,1046.3 481.7,1056.5 500.0,1066.0 C518.3,1075.5 550.0,1087.7 560.0,1092.0" fill="none" stroke="#18c8e8" stroke-width="3" stroke-linecap="round" opacity="0.8"/>
<path d="M456.0,900.0 C463.3,908.0 483.2,931.3 500.0,948.0 C516.8,964.7 537.0,984.3 557.0,1000.0 C577.0,1015.7 599.0,1029.3 620.0,1042.0 C641.0,1054.7 659.7,1066.3 683.0,1076.0 C706.3,1085.7 733.8,1093.0 760.0,1100.0 C786.2,1107.0 826.7,1115.0 840.0,1118.0" fill="none" stroke="#18c8e8" stroke-width="3" stroke-linecap="round" opacity="0.8"/>
<path d="M720.0,1060.0 C735.0,1064.0 783.3,1076.3 810.0,1084.0 C836.7,1091.7 855.7,1098.5 880.0,1106.0 C904.3,1113.5 933.7,1123.5 956.0,1129.0 C978.3,1134.5 1004.3,1137.3 1014.0,1139.0" fill="none" stroke="#18c8e8" stroke-width="3" stroke-linecap="round" opacity="0.8"/>
<path d="M780.0,1061.0 C791.7,1065.5 829.0,1080.5 850.0,1088.0 C871.0,1095.5 887.7,1101.3 906.0,1106.0 C924.3,1110.7 941.2,1113.4 960.0,1116.0 C978.8,1118.6 1009.2,1120.6 1019.0,1121.5" fill="none" stroke="#18c8e8" stroke-width="3" stroke-linecap="round" opacity="0.8"/>
<path d="M268.0,900.0 C276.7,909.2 303.0,937.5 320.0,955.0 C337.0,972.5 351.5,987.0 370.0,1005.0 C388.5,1023.0 412.3,1049.5 431.0,1063.0 C449.7,1076.5 473.5,1082.2 482.0,1086.0" fill="none" stroke="#18c8e8" stroke-width="3" stroke-linecap="round" opacity="0.8"/>
<path d="M292.0,736.0 C298.3,738.3 318.5,745.5 330.0,750.0 C341.5,754.5 350.0,754.7 361.0,763.0 C372.0,771.3 384.5,787.2 396.0,800.0 C407.5,812.8 417.7,825.3 430.0,840.0 C442.3,854.7 456.7,872.2 470.0,888.0 C483.3,903.8 497.5,920.5 510.0,935.0 C522.5,949.5 539.2,968.3 545.0,975.0" fill="none" stroke="#041040" stroke-width="2.5" stroke-linecap="round" opacity="0.6"/>
<path d="M507.0,821.0 C513.3,828.0 532.5,849.0 545.0,863.0 C557.5,877.0 569.5,892.2 582.0,905.0 C594.5,917.8 607.3,928.8 620.0,940.0 C632.7,951.2 643.3,960.0 658.0,972.0 C672.7,984.0 691.0,1000.7 708.0,1012.0 C725.0,1023.3 743.0,1031.8 760.0,1040.0 C777.0,1048.2 801.7,1057.5 810.0,1061.0" fill="none" stroke="#041040" stroke-width="2.5" stroke-linecap="round" opacity="0.6"/>
<path d="M262.0,905.0 C270.0,913.8 293.7,940.8 310.0,958.0 C326.3,975.2 340.8,989.7 360.0,1008.0 C379.2,1026.3 414.2,1058.0 425.0,1068.0" fill="none" stroke="#041040" stroke-width="2.5" stroke-linecap="round" opacity="0.6"/>
<path d="M545.0,900.0 C554.2,908.3 581.2,934.0 600.0,950.0 C618.8,966.0 635.7,981.7 658.0,996.0 C680.3,1010.3 708.7,1025.2 734.0,1036.0 C759.3,1046.8 782.3,1052.0 810.0,1061.0 C837.7,1070.0 868.3,1081.5 900.0,1090.0 C931.7,1098.5 983.3,1108.3 1000.0,1112.0" fill="none" stroke="#041040" stroke-width="2.5" stroke-linecap="round" opacity="0.6"/>
<path d="M333,677.5 L361,687 L387,706 L413,733.5 L433,758 L422,754.5 L396,731 L370,710 L346,688 Z" fill="#ffffff" />
<path d="M433.0,758.0 C439.2,764.5 458.8,785.0 470.0,797.0 C481.2,809.0 491.3,820.7 500.0,830.0 C508.7,839.3 518.3,849.2 522.0,853.0" fill="none" stroke="#f0d8f8" stroke-width="2.5" stroke-linecap="round" opacity="0.8"/>
<path d="M255.0,663.5 C253.2,663.6 245.8,663.9 244.0,664.0" fill="none" stroke="#1010c0" stroke-width="4" stroke-linecap="round" />
<path d="M540.0,862.0 C550.0,872.5 580.0,906.2 600.0,925.0 C620.0,943.8 638.3,959.2 660.0,975.0 C681.7,990.8 706.7,1007.5 730.0,1020.0 C753.3,1032.5 788.3,1045.0 800.0,1050.0" fill="none" stroke="#0a6a3a" stroke-width="4" stroke-linecap="round" opacity="0.8"/>
<path d="M560.0,872.0 C570.0,882.0 600.0,914.0 620.0,932.0 C640.0,950.0 658.3,965.0 680.0,980.0 C701.7,995.0 738.3,1015.0 750.0,1022.0" fill="none" stroke="#20c0a0" stroke-width="3" stroke-linecap="round" opacity="0.8"/>
<path d="M1340.0,430.0 C1346.8,441.7 1365.8,474.0 1381.0,500.0 C1396.2,526.0 1414.7,555.5 1431.5,586.0 C1448.3,616.5 1468.2,656.5 1482.0,683.0 C1495.8,709.5 1503.5,730.2 1514.0,745.0 C1524.5,759.8 1539.8,767.5 1545.0,772.0" fill="none" stroke="#10b0f0" stroke-width="2.5" stroke-linecap="round" opacity="0.8"/>
<path d="M1600.0,655.0 C1608.7,655.3 1634.8,656.7 1652.0,657.0 C1669.2,657.3 1690.3,655.7 1703.0,657.0 C1715.7,658.3 1723.8,663.7 1728.0,665.0" fill="none" stroke="#10c0e0" stroke-width="3" stroke-linecap="round" opacity="0.8"/>
<path d="M1205.0,372.0 C1207.8,368.3 1215.2,355.3 1222.0,350.0 C1228.8,344.7 1238.0,340.3 1246.0,340.0 C1254.0,339.7 1266.0,346.7 1270.0,348.0" fill="none" stroke="#c8ffb0" stroke-width="3" stroke-linecap="round" opacity="0.8"/>
<path d="M1188.0,470.0 C1191.7,465.0 1201.3,447.5 1210.0,440.0 C1218.7,432.5 1230.0,426.3 1240.0,425.0 C1250.0,423.7 1260.0,427.0 1270.0,432.0 C1280.0,437.0 1295.0,451.2 1300.0,455.0" fill="none" stroke="#b0ffa0" stroke-width="2.5" stroke-linecap="round" opacity="0.6"/>
<path d="M1635.0,568.5 C1642.2,568.9 1664.6,568.5 1678.0,571.0 C1691.4,573.5 1705.6,577.8 1715.6,583.6 C1725.6,589.4 1731.4,596.6 1738.0,606.0 C1744.6,615.4 1743.7,625.2 1755.0,640.0 C1766.3,654.8 1788.8,676.5 1805.6,695.0 C1822.4,713.5 1839.3,731.7 1856.0,751.0 C1872.7,770.3 1892.0,794.5 1906.0,811.0 C1920.0,827.5 1934.3,843.5 1940.0,850.0" fill="none" stroke="#30c050" stroke-width="3" stroke-linecap="round" />
<path d="M1728.0,618.0 C1736.7,622.0 1763.0,628.3 1780.0,642.0 C1797.0,655.7 1813.2,680.0 1830.0,700.0 C1846.8,720.0 1864.2,741.7 1881.0,762.0 C1897.8,782.3 1914.2,804.3 1931.0,822.0 C1947.8,839.7 1973.5,860.3 1982.0,868.0" fill="none" stroke="#c08010" stroke-width="3" stroke-linecap="round" opacity="0.85"/>
<path d="M1753.0,640.0 C1761.7,648.3 1787.8,673.0 1805.0,690.0 C1822.2,707.0 1839.2,723.7 1856.0,742.0 C1872.8,760.3 1897.7,790.3 1906.0,800.0" fill="none" stroke="#e8ffe0" stroke-width="5" stroke-linecap="round" opacity="0.7"/>
<!-- y tick labels -->
<g class="tick" text-anchor="end">
<text x="208" y="128">2.5</text>
<text x="208" y="269">2</text>
<text x="208" y="409.5">1.5</text>
<text x="208" y="550">1</text>
<text x="208" y="691">0.5</text>
<text x="208" y="832">0</text>
<text x="208" y="973">-0.5</text>
<text x="208" y="1113">-1</text>
<text x="208" y="1254">-1.5</text>
<text x="208" y="1394.5">-2</text>
</g>
<!-- x tick labels -->
<g class="tick" text-anchor="middle">
<text x="235" y="1455.5">0</text>
<text x="570" y="1455.5">20</text>
<text x="906" y="1455.5">40</text>
<text x="1241" y="1455.5">60</text>
<text x="1577" y="1455.5">80</text>
<text x="1908" y="1455.5">100</text>
<text x="2244.5" y="1455.5">120</text>
</g>
<!-- title and axis labels -->
<text class="lab" x="856.5" y="74.5" textLength="776" lengthAdjust="spacing">Single pulse of PPG signal</text>
<text class="lab" x="1244" y="1541" text-anchor="middle">Sample</text>
<text class="lab" style="font-size:64.5px" transform="translate(75,733) rotate(-90)" text-anchor="middle">Amplitude(V)</text>
<!-- legend -->
<rect x="1677.5" y="151" width="523.5" height="231.7" fill="#ffffff" stroke="#241c22" stroke-width="5.5"/>
<line x1="1694" y1="195.5" x2="1870" y2="195.5" stroke="#e62a44" stroke-width="5.5" stroke-linecap="round"/>
<line x1="1694" y1="268.7" x2="1870" y2="268.7" stroke="#3cea3c" stroke-width="6.5" stroke-linecap="round"/>
<line x1="1694" y1="340.4" x2="1870" y2="340.4" stroke="#5c54d8" stroke-width="8" stroke-linecap="round"/>
<g class="leg">
<text x="1879" y="221" textLength="281" lengthAdjust="spacing">low valence</text>
<text x="1879" y="291.2" textLength="172" lengthAdjust="spacing">neutral</text>
<text x="1879" y="366.4" textLength="301.5" lengthAdjust="spacing">high valence</text>
</g>
</svg>
</body>
</html>
